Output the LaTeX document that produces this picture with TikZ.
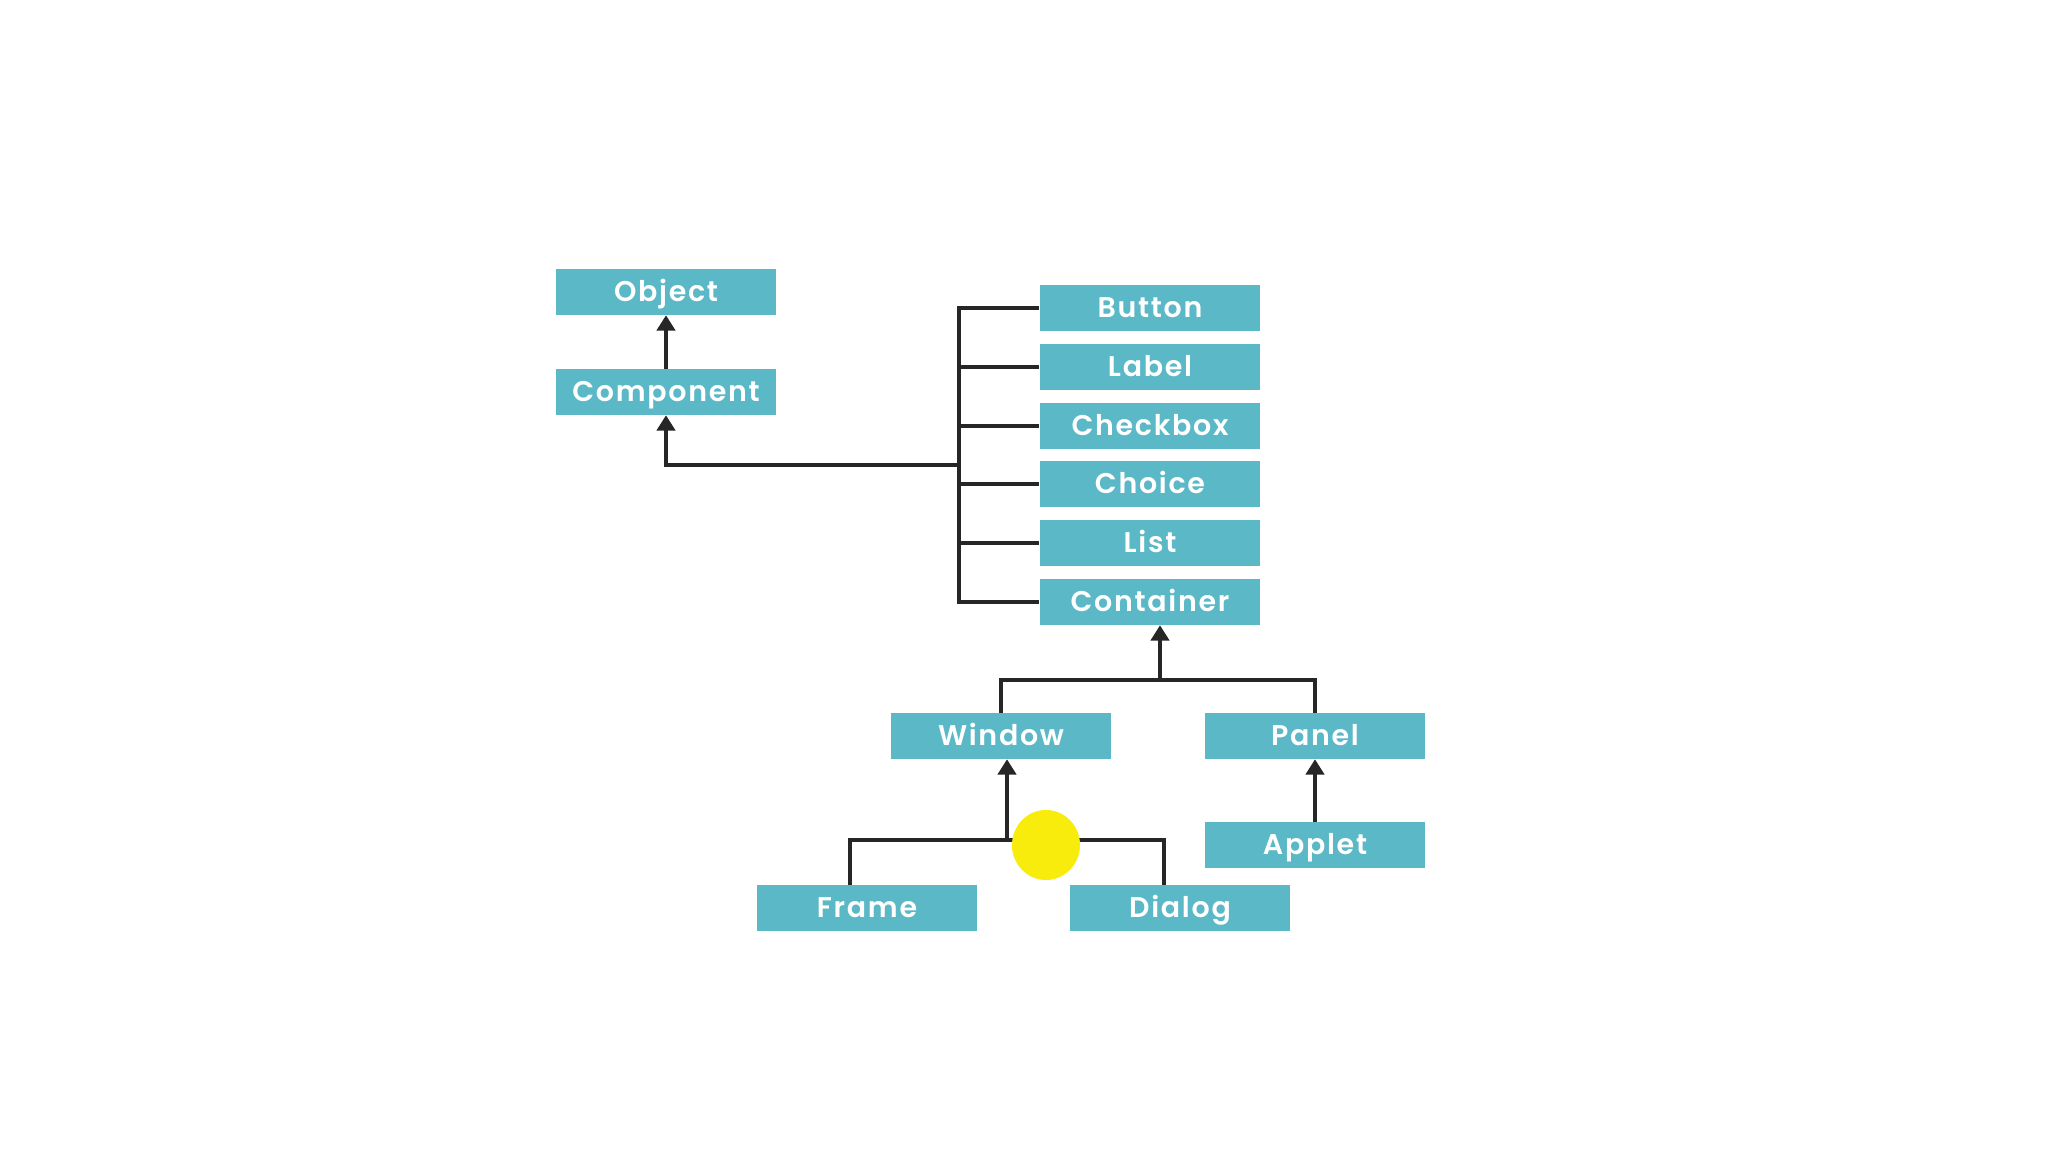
\documentclass[tikz,border=0pt]{standalone}
\usepackage{fontspec}
\setsansfont{Poppins}[LetterSpace=6,BoldFont={Poppins SemiBold}]
\usepackage{tikz}
\usetikzlibrary{arrows.meta}

\definecolor{boxteal}{RGB}{91,184,199}
\definecolor{marker}{RGB}{248,236,12}

\begin{document}
\begin{tikzpicture}[x=0.01cm,y=-0.01cm,
  cls/.style={fill=boxteal,text=white,minimum width=2.2cm,minimum height=0.45cm,inner sep=0pt,text height=1.55ex,text depth=0.35ex,font=\sffamily\bfseries\fontsize{8.1}{10}\selectfont},
  wire/.style={draw=black!85,line width=1.05pt},
  arr/.style={wire,-{Triangle[length=4.4pt,width=5.2pt]}}]
  \useasboundingbox (0,0) rectangle (2048,1152);

  %left column
  \node[cls] (object) at (666,292) {Object};
  \node[cls] (component) at (666,392) {Component};

  %right column
  \node[cls] (button) at (1150,308) {Button};
  \node[cls] (label) at (1150,367) {Label};
  \node[cls] (checkbox) at (1150,426) {Checkbox};
  \node[cls] (choice) at (1150,484) {Choice};
  \node[cls] (list) at (1150,543) {List};
  \node[cls] (container) at (1150,602) {Container};

  %lower part
  \node[cls] (window) at (1001,736) {Window};
  \node[cls] (panel) at (1315,736) {Panel};
  \node[cls] (applet) at (1315,845) {Applet};
  \node[cls] (frame) at (867,908) {Frame};
  \node[cls] (dialog) at (1180,908) {Dialog};

  %joints
  \coordinate (hub) at (959,465);
  \coordinate (cbar) at (1160,680);
  \coordinate (wbar) at (1007,840);

  \draw[arr] (component) -- (object);
  \draw[arr] (hub) -| (component);
  \draw[wire] (button.west) -| (hub);
  \draw[wire] (container.west) -| (hub);
  \foreach \n in {label,checkbox,choice,list}
    \draw[wire] (\n.west) -- (\n.west -| hub);

  \draw[arr] (cbar) -- (cbar |- container.south);
  \draw[wire] (window.north) |- (cbar) -| (panel.north);
  \draw[arr] (applet) -- (panel);

  \draw[arr] (wbar) -- (wbar |- window.south);
  \draw[wire] ([xshift=-0.17cm]frame.north) |- (wbar) -| ([xshift=-0.16cm]dialog.north);

  %pointer
  \fill[marker] (1046,845) ellipse [x radius=0.34cm,y radius=0.35cm];
\end{tikzpicture}
\end{document}
